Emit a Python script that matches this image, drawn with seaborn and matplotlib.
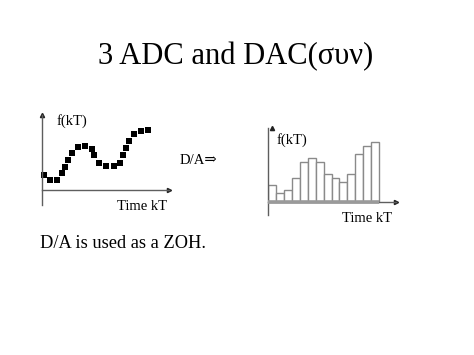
import matplotlib

matplotlib.use("Agg", force=True)
import matplotlib.pyplot as plt
import pandas as pd
import seaborn as sns

# sampled signal (left sketch): time offset and height of each dot
SAMPLE_TIME = [1.7, 7.7, 14.4, 19.4, 22.7, 26.0, 30.0, 36.0, 42.7, 49.4, 51.7,
               57.0, 63.7, 71.7, 77.7, 81.0, 83.7, 87.0, 92.0, 98.7, 106.0]
SAMPLE_VALUE = [15, 10, 10, 16.7, 23.3, 30, 36.7, 43.3, 44.3, 41, 35,
                27.3, 24.3, 24.3, 27.3, 35, 42.3, 49, 55.7, 59.3, 60]

# ZOH output (right sketch): one held level per sample period
HOLD_STEP = list(range(14))
HOLD_VALUE = [16.5, 9, 12, 24, 40, 44, 40, 28, 24, 20, 28, 48, 56, 60]

TITLE = "3 ADC and DAC(\u03c3\u03c5\u03bd)"
CAPTION = "D/A is used as a ZOH."
ARROW_LABEL = "D/A\u21d2"

W, H = 474, 355
SERIF = ["Liberation Serif", "DejaVu Serif"]
AXIS_COLOR = "#5e5e5e"


def box(x0, y0, x1, y1):
    # pixel box (top-left origin) -> figure fraction rect
    return [x0 / W, 1 - y1 / H, (x1 - x0) / W, (y1 - y0) / H]


def arrow_axes(ax):
    for side in ("top", "right"):
        ax.spines[side].set_visible(False)
    ax.spines["left"].set_position(("data", ax.get_xlim()[0]))
    ax.spines["bottom"].set_position(("data", 0))
    for side in ("left", "bottom"):
        ax.spines[side].set_color(AXIS_COLOR)
        ax.spines[side].set_linewidth(1.0)
    ax.set_xticks([])
    ax.set_yticks([])
    ax.set_xlabel("")
    ax.set_ylabel("")
    ax.patch.set_alpha(0)
    ax.plot(1, 0, ">", color="#222222", ms=3, transform=ax.get_yaxis_transform(), clip_on=False)
    ax.plot(0, 1, "^", color="#222222", ms=3, transform=ax.get_xaxis_transform(), clip_on=False)


def main() -> None:
    sns.set_theme(style="white")
    plt.rcParams["font.family"] = SERIF
    plt.rcParams["text.color"] = "black"

    fig = plt.figure(figsize=(W / 100, H / 100), dpi=100)
    fig.patch.set_facecolor("white")

    # left: sampled f(kT)
    ax1 = fig.add_axes(box(42.3, 115, 169, 205))
    df1 = pd.DataFrame({"t": SAMPLE_TIME, "f": SAMPLE_VALUE})
    sns.scatterplot(data=df1, x="t", y="f", marker="s", s=16, color="black",
                    linewidth=0, ax=ax1, clip_on=False)
    ax1.set_xlim(0, 126.7)
    ax1.set_ylim(-15, 75)
    arrow_axes(ax1)

    # right: zero-order hold bars
    ax2 = fig.add_axes(box(268.3, 128, 396, 215))
    df2 = pd.DataFrame({"k": HOLD_STEP, "f": HOLD_VALUE})
    sns.barplot(data=df2, x="k", y="f", width=1.0, color="white",
                edgecolor="#8a8a8a", linewidth=1.0, ax=ax2)
    ax2.set_xlim(-0.5, 15.66)
    ax2.set_ylim(-13.5, 73.5)
    ax2.hlines(0, -0.5, len(HOLD_VALUE) - 0.5, color="#9a9a9a", lw=2.6, zorder=3)
    arrow_axes(ax2)

    # text
    fig.text(236 / W, 1 - 57 / H, TITLE, ha="center", va="center", fontsize=22)
    fig.text(57 / W, 1 - 121 / H, "f(kT)", ha="left", va="center", fontsize=10.5)
    fig.text(117 / W, 1 - 206 / H, "Time kT", ha="left", va="center", fontsize=10.5)
    fig.text(277 / W, 1 - 140 / H, "f(kT)", ha="left", va="center", fontsize=10.5)
    fig.text(342 / W, 1 - 219 / H, "Time kT", ha="left", va="center", fontsize=10.5)
    fig.text(180 / W, 1 - 160 / H, ARROW_LABEL, ha="left", va="center", fontsize=10.5)
    fig.text(40 / W, 1 - 243 / H, CAPTION, ha="left", va="center", fontsize=13.2)

    fig.savefig("out.png", dpi=100)
    plt.close(fig)


if __name__ == "__main__":
    main()
